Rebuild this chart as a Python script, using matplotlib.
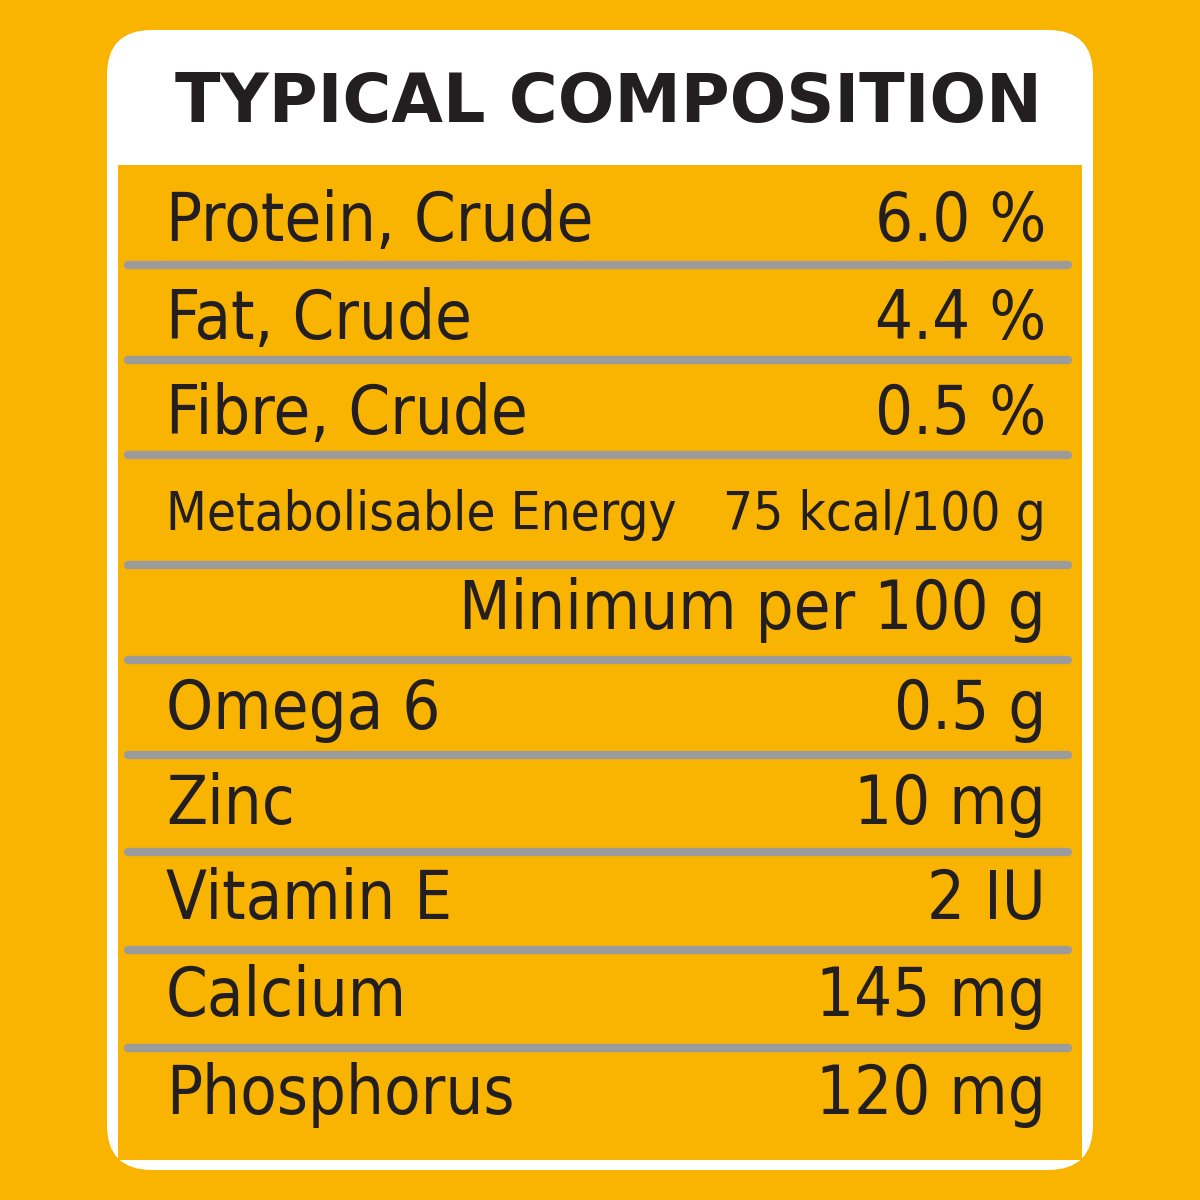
import matplotlib
matplotlib.use("Agg")
import matplotlib.pyplot as plt
from matplotlib.patches import FancyBboxPatch, Rectangle

title = "TYPICAL COMPOSITION"
labels = ["Protein, Crude", "Fat, Crude", "Fibre, Crude", "Metabolisable Energy", "",
          "Omega 6", "Zinc", "Vitamin E", "Calcium", "Phosphorus"]
values = ["6.0 %", "4.4 %", "0.5 %", "75 kcal/100 g", "Minimum per 100 g",
          "0.5 g", "10 mg", "2 IU", "145 mg", "120 mg"]
text_y = [222, 320, 415, 515, 610, 710, 805, 900, 997, 1095]
line_y = [265, 360, 455, 565, 660, 755, 852, 950, 1048]
sizes = [48, 48, 48, 38, 48, 48, 48, 48, 48, 48]

ORANGE = "#F8B400"
fig = plt.figure(figsize=(12, 12), dpi=100)
fig.patch.set_facecolor(ORANGE)
ax = fig.add_axes([0, 0, 1, 1])
ax.set_xlim(0, 1200); ax.set_ylim(1200, 0); ax.axis("off")

ax.add_patch(FancyBboxPatch((107, 30), 986, 1140, boxstyle="round,pad=0,rounding_size=45",
                            fc="white", ec="none"))
ax.add_patch(Rectangle((118, 165), 964, 995, fc=ORANGE, ec="none"))
ax.text(608, 103, title, ha="center", va="center", fontsize=48, fontweight="heavy",
        color="#231F20", family=["DejaVu Sans"])

fam = ["DejaVu Sans"]
for lab, val, y, s in zip(labels, values, text_y, sizes):
    if lab:
        ax.text(166, y, lab, ha="left", va="center", fontsize=s, color="#231F20",
                family=fam, fontstretch="condensed")
    ax.text(1046, y, val, ha="right", va="center", fontsize=s, color="#231F20",
            family=fam, fontstretch="condensed")
for y in line_y:
    ax.plot([128, 1068], [y, y], color="#9B9B9B", lw=6, solid_capstyle="round")

fig.savefig("out.png", dpi=100, facecolor=ORANGE)
